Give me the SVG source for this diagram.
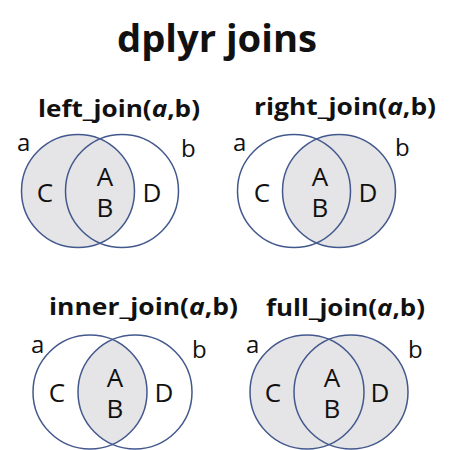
<svg xmlns="http://www.w3.org/2000/svg" width="474" height="450" viewBox="0 0 474 450">
<style>
.title{font-family:"Open Sans","Liberation Sans",sans-serif;font-weight:bold;fill:#111}
.head{font-family:"Open Sans","Liberation Sans",sans-serif;font-weight:bold;font-size:24px;fill:#111}
.it{font-style:italic}
.set{font-family:"Open Sans","Liberation Sans",sans-serif;font-size:24px;fill:#111}
.reg{font-family:"Open Sans","Liberation Sans",sans-serif;font-size:26px;fill:#111;text-anchor:middle}
.c{stroke:#43598d;stroke-width:1.5;fill:none}
.f{fill:#e5e4e7;stroke:none}
</style>
<defs>
<clipPath id="clipInner"><circle cx="90" cy="392" r="57"/></clipPath>
</defs>
<rect width="474" height="450" fill="#fff"/>
<text class="title" x="117" y="52" font-size="38" textLength="200" lengthAdjust="spacingAndGlyphs">dplyr joins</text>

<g id="left_join">
<circle class="f" cx="78" cy="191" r="56.5"/>
<circle class="c" cx="78" cy="191" r="56.5"/>
<circle class="c" cx="122" cy="191" r="56.5"/>
<text class="head" x="38" y="117" textLength="162" lengthAdjust="spacingAndGlyphs">left_join(<tspan class="it">a</tspan>,b)</text>
<text class="set" x="17" y="151">a</text>
<text class="set" x="181" y="157">b</text>
<text class="reg" x="45" y="202">C</text>
<text class="reg" x="105" y="186">A</text>
<text class="reg" x="105" y="217">B</text>
<text class="reg" x="152" y="202">D</text>
</g>

<g id="right_join">
<circle class="f" cx="339" cy="191" r="56.5"/>
<circle class="c" cx="294" cy="191" r="56.5"/>
<circle class="c" cx="339" cy="191" r="56.5"/>
<text class="head" x="254" y="115" textLength="182" lengthAdjust="spacingAndGlyphs">right_join(<tspan class="it">a</tspan>,b)</text>
<text class="set" x="233" y="151">a</text>
<text class="set" x="395" y="156">b</text>
<text class="reg" x="262" y="202">C</text>
<text class="reg" x="320" y="186">A</text>
<text class="reg" x="320" y="217">B</text>
<text class="reg" x="368" y="202">D</text>
</g>

<g id="inner_join">
<circle class="f" cx="135" cy="392" r="57" clip-path="url(#clipInner)"/>
<circle class="c" cx="90" cy="392" r="57"/>
<circle class="c" cx="135" cy="392" r="57"/>
<text class="head" x="49" y="315" textLength="189" lengthAdjust="spacingAndGlyphs">inner_join(<tspan class="it">a</tspan>,b)</text>
<text class="set" x="31" y="353">a</text>
<text class="set" x="192" y="358">b</text>
<text class="reg" x="57" y="402">C</text>
<text class="reg" x="115" y="387">A</text>
<text class="reg" x="115" y="418">B</text>
<text class="reg" x="164" y="402">D</text>
</g>

<g id="full_join">
<circle class="f" cx="307" cy="392" r="57"/>
<circle class="f" cx="351" cy="392" r="57"/>
<circle class="c" cx="307" cy="392" r="57"/>
<circle class="c" cx="351" cy="392" r="57"/>
<text class="head" x="266" y="316" textLength="159" lengthAdjust="spacingAndGlyphs">full_join(<tspan class="it">a</tspan>,b)</text>
<text class="set" x="246" y="353">a</text>
<text class="set" x="408" y="358">b</text>
<text class="reg" x="273" y="402">C</text>
<text class="reg" x="332" y="387">A</text>
<text class="reg" x="332" y="418">B</text>
<text class="reg" x="380" y="402">D</text>
</g>

<g id="connectors"></g>
</svg>
